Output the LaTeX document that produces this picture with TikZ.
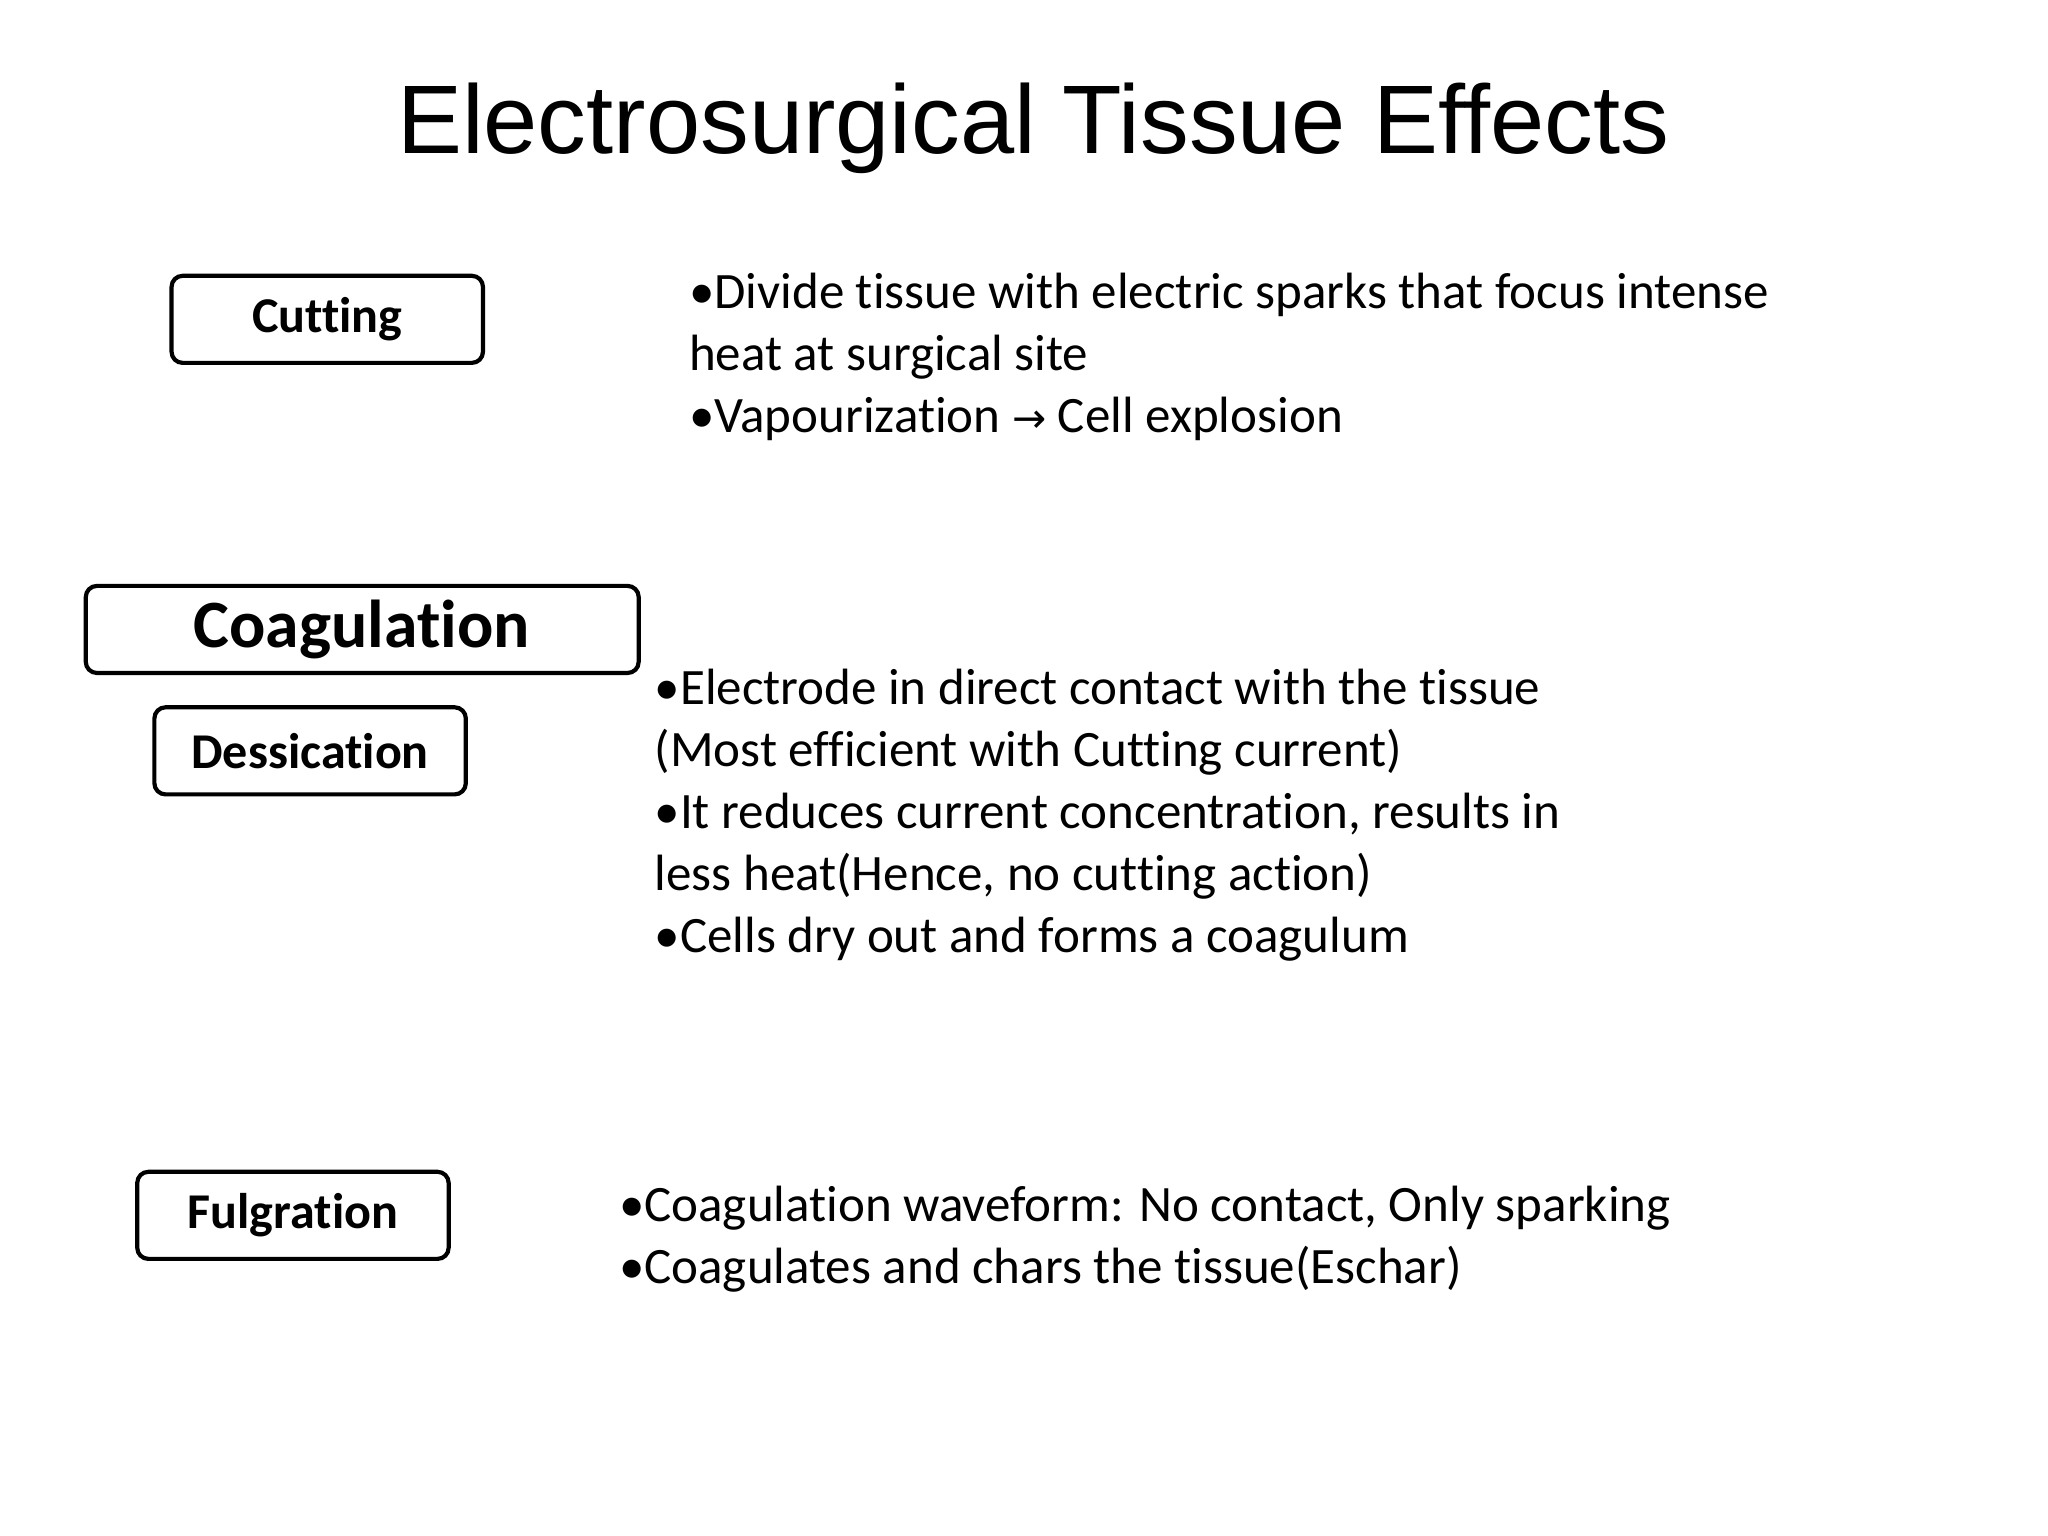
\documentclass[tikz,border=0pt]{standalone}
\usepackage{fontspec}
\setmainfont{Carlito}[Ligatures=NoCommon]
\newfontfamily\titlefont{Liberation Sans}
\newfontfamily\arrfont{DejaVu Sans}
\begin{document}
\begin{tikzpicture}[x=0.05cm,y=-0.05cm,
 box/.style={draw,line width=4.5pt,rounded corners=12pt,inner sep=0pt},
 lbl/.style={font=\bfseries\fontsize{54}{60}\selectfont},
 body/.style={anchor=north west,align=left,inner sep=0pt,font=\fontsize{55}{66.7}\selectfont}]
\useasboundingbox (0,0) rectangle (1552,1164);
\node[font=\titlefont\fontsize{105}{120}\selectfont] (title) at (783,97) {Electrosurgical Tissue Effects};
\draw[box] (130,209) rectangle (366,275);
\node[lbl] (cut) at (248,242) {Cutting};
\draw[box] (65,444) rectangle (484,510);
\node[lbl,font=\bfseries\fontsize{73}{80}\selectfont] (coag) at (274,477) {Coagulation};
\draw[box] (117,536) rectangle (353,602);
\node[lbl] (des) at (235,569) {Dessication};
\draw[box] (104,888) rectangle (340,954);
\node[lbl] (ful) at (222,921) {Fulgration};
\node[body] (t1) at (522,207) {•Divide tissue with electric sparks that focus intense\\heat at surgical site\\•Vapourization {\arrfont\fontsize{44}{50}\selectfont →} Cell explosion};
\node[body] (t2) at (496,507) {•Electrode in direct contact with the tissue\\(Most efficient with Cutting current)\\•It reduces current concentration, results in\\less heat(Hence, no cutting action)\\•Cells dry out and forms a coagulum};
\node[body] (t3) at (469,899) {•Coagulation waveform: No contact, Only sparking\\•Coagulates and chars the tissue(Eschar)};
\end{tikzpicture}
\end{document}
